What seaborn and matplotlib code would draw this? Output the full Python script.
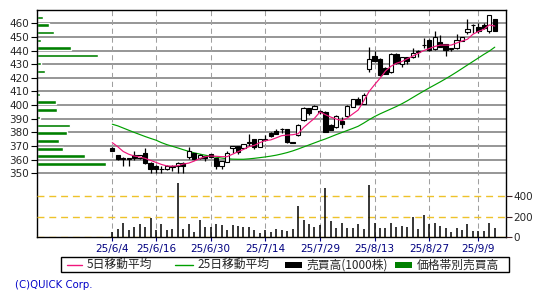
import numpy as np
import pandas as pd
import matplotlib
matplotlib.use("Agg")
import matplotlib.pyplot as plt
import seaborn as sns
from matplotlib.patches import Rectangle
from matplotlib.lines import Line2D

# ---------------- data ----------------
holidays = ["2025-07-21", "2025-08-11"]
trade_dates = [d for d in pd.bdate_range("2025-06-04", "2025-09-12")
               if d.strftime("%Y-%m-%d") not in holidays]

open_ = [368.8, 363.4, 361.5, 361.0, 363.4, 361.5, 365.1, 357.8, 355.6, 353.2,
         352.9, 354.3, 355.6, 357.8, 361.7, 364.6, 361.2, 362.5, 363.8, 361.0,
         355.1, 358.5, 368.3, 370.0, 368.3, 372.3, 375.0, 369.5, 374.5, 379.8,
         381.0, 382.5, 382.5, 373.0, 377.8, 388.8, 397.6, 397.5, 395.5, 395.2,
         385.4, 384.2, 388.0, 392.0, 398.9, 404.2, 400.8, 426.5, 436.0, 433.6,
         427.5, 424.5, 437.5, 430.5, 435.0, 435.0, 438.6, 443.8, 448.0, 440.9,
         446.5, 444.6, 441.5, 441.6, 447.3, 453.9, 458.6, 457.5, 458.8, 454.6,
         462.9]
high = [369.0, 363.6, 361.8, 361.5, 366.4, 363.5, 368.3, 358.0, 356.0, 355.6,
        355.8, 356.0, 358.0, 358.0, 369.5, 365.0, 364.0, 363.0, 364.5, 361.5,
        359.3, 366.0, 370.2, 370.2, 371.5, 378.6, 375.2, 375.5, 378.0, 380.0,
        382.7, 383.5, 382.7, 373.2, 386.0, 398.4, 398.0, 400.0, 396.5, 395.5,
        386.0, 392.8, 391.0, 399.8, 404.5, 406.2, 408.6, 442.9, 439.5, 434.2,
        428.0, 438.0, 438.0, 435.2, 435.3, 441.6, 440.4, 449.0, 448.3, 454.4,
        451.4, 445.0, 442.0, 452.0, 450.0, 462.9, 459.5, 460.0, 460.5, 466.1,
        463.0]
low = [366.0, 360.0, 355.6, 355.6, 360.0, 360.5, 357.0, 350.0, 350.0, 350.0,
       352.5, 352.0, 350.5, 350.5, 360.3, 360.0, 360.5, 358.8, 361.5, 353.2,
       353.0, 358.0, 364.6, 364.0, 367.5, 370.0, 367.5, 369.0, 373.5, 376.5,
       378.5, 379.3, 372.0, 372.0, 377.0, 388.0, 392.8, 397.0, 393.5, 380.0,
       381.5, 383.5, 383.0, 391.5, 398.5, 400.5, 400.5, 424.5, 431.5, 421.5,
       422.5, 423.5, 430.5, 427.7, 430.5, 434.5, 435.5, 441.6, 440.0, 440.5,
       442.5, 436.0, 440.0, 441.0, 447.0, 452.2, 452.7, 452.7, 456.0, 452.7,
       454.6]
close = [366.1, 360.3, 360.2, 360.6, 361.5, 363.2, 357.8, 352.9, 352.9, 352.9,
         355.6, 355.0, 357.8, 355.6, 366.6, 360.7, 363.4, 361.0, 362.0, 355.6,
         359.3, 364.6, 370.0, 365.9, 371.2, 372.5, 369.5, 375.0, 375.5, 377.2,
         379.0, 382.3, 372.7, 372.4, 385.4, 397.7, 394.5, 399.4, 395.2, 380.5,
         382.0, 392.0, 386.5, 399.4, 404.2, 400.8, 407.4, 433.6, 432.6, 422.1,
         423.0, 437.5, 430.7, 435.0, 432.6, 438.5, 439.4, 444.2, 440.4, 449.7,
         442.9, 440.4, 441.2, 447.8, 449.7, 455.6, 458.8, 454.6, 456.3, 466.1,
         454.6]
volume = [49, 78, 137, 68, 98, 127, 98, 185, 68, 127,
          68, 78, 527, 78, 127, 49, 166, 98, 101, 127,
          117, 68, 117, 107, 98, 98, 68, 39, 68, 49,
          78, 68, 59, 78, 302, 166, 127, 98, 117, 478,
          156, 88, 137, 88, 88, 127, 78, 507, 137, 88,
          88, 137, 98, 107, 98, 195, 78, 215, 127, 137,
          107, 88, 49, 88, 68, 127, 59, 59, 59, 137,
          88]
ma5 = [372.5, 369.5, 366.0, 364.0, 362.7, 362.0, 361.0, 359.5, 358.0, 356.5,
       355.4, 355.2, 355.6, 356.8, 357.5, 359.0, 360.8, 362.2, 362.7, 362.5,
       362.2, 362.2, 364.0, 365.8, 367.5, 369.5, 370.5, 372.5, 374.0, 374.5,
       376.0, 377.6, 378.0, 378.3, 379.0, 383.5, 387.0, 390.3, 395.0, 393.0,
       391.2, 389.8, 388.6, 390.5, 393.5, 396.4, 403.0, 410.0, 415.0, 419.7,
       425.0, 428.5, 430.7, 432.0, 434.0, 436.0, 438.0, 440.0, 441.5, 443.0,
       444.0, 444.0, 444.0, 445.5, 447.0, 448.3, 452.0, 454.0, 455.6, 458.8,
       458.0]
ma25 = [386.0, 384.8, 383.2, 381.6, 380.0, 378.5, 377.0, 375.6, 374.3, 372.5,
        371.0, 369.8, 368.6, 367.3, 366.1, 365.0, 364.1, 363.3, 362.5, 361.8,
        361.2, 360.7, 360.4, 360.3, 360.3, 360.6, 361.0, 361.5, 362.0, 362.6,
        363.3, 364.2, 365.2, 366.4, 367.8, 369.3, 370.8, 372.3, 373.8, 375.2,
        376.8, 378.4, 379.9, 381.4, 382.9, 384.5, 386.8, 389.3, 391.6, 393.6,
        395.4, 397.2, 399.0, 401.0, 403.2, 405.6, 408.0, 410.3, 412.6, 414.8,
        417.0, 419.3, 421.7, 424.2, 426.8, 429.4, 432.0, 434.6, 437.2, 439.6,
        442.5]
# price-band volume (relative units)
pv_price = [464.4, 458.9, 453.2, 447.5, 441.7, 436.3, 430.5, 424.8,
            407.9, 402.2, 396.4, 390.9, 385.2, 379.4, 373.6, 367.9, 362.6, 356.8]
pv_volume = [5.7, 12.0, 17.0, 3.7, 34.0, 60.7, 3.7, 7.7,
             2.7, 18.7, 19.7, 2.7, 32.7, 29.7, 21.7, 25.7, 47.7, 68.7]

price_ticks = list(range(350, 461, 10))
vol_ticks = [0, 200, 400]
tick_dates = ["2025-06-04", "2025-06-16", "2025-06-30", "2025-07-14",
              "2025-07-29", "2025-08-13", "2025-08-27", "2025-09-09"]

legend_labels = ["5日移動平均", "25日移動平均", "売買高(1000株)", "価格帯別売買高"]
copyright_text = "(C)QUICK Corp."

# ---------------- styling ----------------
sns.set_theme(style="white")
plt.rcParams["font.family"] = ["DejaVu Sans", "Noto Sans CJK JP"]
JP = ["Noto Sans CJK JP", "DejaVu Sans"]

PINK = "#F0167C"
GREEN_MA = "#00A000"
GREEN_PV = "#008000"
GRID = "#A0A0A0"
HGRID = "#969696"
YELLOW = "#EEC22A"
NAVY = "#000080"

W, H = 550, 300
fig = plt.figure(figsize=(W / 100, H / 100), dpi=100)
fig.patch.set_facecolor("white")

L, R, T, B = 37, 505.7, 10, 237
ax = fig.add_axes([L / W, 1 - B / H, (R - L) / W, (B - T) / H])
ax.patch.set_visible(False)

days = np.arange(len(close))
xmin, xmax = -13.78, 72.0
ymin, ymax = 303.3, 469.75

date_strs = [d.strftime("%Y-%m-%d") for d in trade_dates]
tick_idx = [date_strs.index(t) for t in tick_dates]
tick_lab = [f"{int(t[2:4])}/{int(t[5:7])}/{int(t[8:10])}" for t in tick_dates]

# background layer (price grid + price-band volume) sharing the price scale
bg = ax.twiny()
bg.set_zorder(ax.get_zorder() - 1)
bg.set_xlim(0, R - L)
bg.set_ylim(ymin, ymax)
bg.hlines(price_ticks, 0, R - L, colors=HGRID, lw=1.4, zorder=1,
          linestyles="solid")
bg.barh(pv_price, pv_volume, height=2.6, left=0, color=GREEN_PV, zorder=3)
bg.set_xticks([])
for s in bg.spines.values():
    s.set_visible(False)

# vertical dashed date grid
ax.vlines(tick_idx, ymin, ymax, colors=GRID, lw=0.75,
          linestyles=(0, (5, 3.5)), zorder=1)

# candles
for i in days:
    o, h, l, c = open_[i], high[i], low[i], close[i]
    ax.vlines(i, l, h, colors="black", lw=0.9, zorder=3)
    bot = min(o, c)
    hgt = max(abs(c - o), 0.35)
    fc = "white" if c > o else "black"
    ax.bar(i, hgt, bottom=bot, width=0.78, color=fc, edgecolor="black",
           lw=0.8, zorder=4)

# moving averages
sns.lineplot(x=days, y=ma25, ax=ax, color=GREEN_MA, lw=0.85, zorder=2)
sns.lineplot(x=days, y=ma5, ax=ax, color=PINK, lw=0.85, zorder=5)

ax.set_xlim(xmin, xmax)
ax.set_ylim(ymin, ymax)

# price axis ticks
ax.set_yticks(price_ticks)
ax.set_yticklabels([str(p) for p in price_ticks], fontsize=7.5)
ax.tick_params(axis="y", direction="out", length=4, width=0.8, color="black",
               pad=1.5, left=True, labelleft=True)
ax.set_xticks(tick_idx)
ax.set_xticklabels(tick_lab, fontsize=7.5, color=NAVY)
ax.tick_params(axis="x", direction="out", length=3, width=0.8, color=NAVY,
               pad=2, bottom=True)
for s in ax.spines.values():
    s.set_color("black")
    s.set_linewidth(1.0)
ax.set_xlabel("")
ax.set_ylabel("")

# volume axis
ax2 = ax.twinx()
ax2.set_ylim(0, 2215)
ax2.hlines(vol_ticks, xmin, xmax, colors=YELLOW, lw=1.0,
           linestyles=(0, (5, 3.5)), zorder=1)
ax2.vlines(days, 0, volume, colors="black", lw=1.1, zorder=3)
ax2.set_yticks(vol_ticks)
ax2.set_yticklabels([str(v) for v in vol_ticks], fontsize=7.5)
ax2.tick_params(axis="y", direction="out", length=4, width=0.8,
                color="#402020", pad=1.5, right=True, labelright=True)
for s in ax2.spines.values():
    s.set_visible(False)

# legend box
def fx(px):
    return px / W

def fy(py):
    return 1 - py / H

lx0, lx1, ly0, ly1 = 60.7, 509, 257.3, 272.3
fig.add_artist(Rectangle((fx(lx0), fy(ly1)), fx(lx1) - fx(lx0), fy(ly0) - fy(ly1),
                         transform=fig.transFigure, facecolor="white",
                         edgecolor="black", lw=1.0))
yc = (ly0 + ly1) / 2
fig.add_artist(Line2D([fx(66.7), fx(81.7)], [fy(yc), fy(yc)], color=PINK, lw=1.0,
                      transform=fig.transFigure))
fig.text(fx(87), fy(yc), legend_labels[0], fontsize=8.5, family=JP,
         va="center", ha="left")
fig.add_artist(Line2D([fx(175), fx(193)], [fy(yc), fy(yc)], color=GREEN_MA, lw=1.0,
                      transform=fig.transFigure))
fig.text(fx(197), fy(yc), legend_labels[1], fontsize=8.5, family=JP,
         va="center", ha="left")
fig.add_artist(Rectangle((fx(285), fy(yc + 2.8)), fx(301.7) - fx(285), 5.6 / H,
                         transform=fig.transFigure, facecolor="black", lw=0))
fig.text(fx(306.7), fy(yc), legend_labels[2], fontsize=8.5, family=JP,
         va="center", ha="left")
fig.add_artist(Rectangle((fx(395), fy(yc + 2.8)), fx(411.7) - fx(395), 5.6 / H,
                         transform=fig.transFigure, facecolor=GREEN_PV, lw=0))
fig.text(fx(416.7), fy(yc), legend_labels[3], fontsize=8.5, family=JP,
         va="center", ha="left")

fig.text(fx(15), fy(285.5), copyright_text, fontsize=7.3, color="#0000C8",
         va="center", ha="left")

fig.savefig("out.png", dpi=100, facecolor="white")
